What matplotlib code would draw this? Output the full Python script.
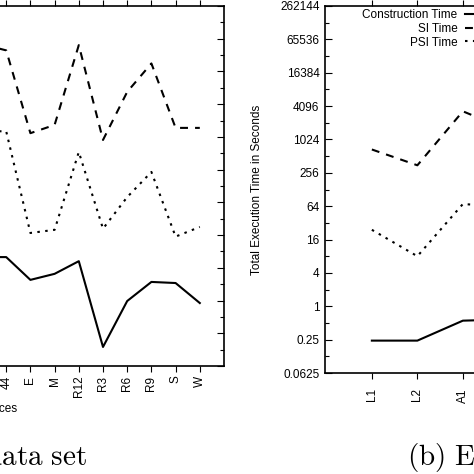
import numpy as np
import matplotlib
matplotlib.use("Agg")
import matplotlib.pyplot as plt
from matplotlib.ticker import FixedLocator, NullFormatter

plt.rcParams['font.family'] = ['Liberation Sans', 'DejaVu Sans']
plt.rcParams['mathtext.fontset'] = 'cm'

# (a) data sets
sources = ["33", "44", "E", "M", "R12", "R3", "R6", "R9", "S", "W"]
constr_a = [6.3, 6.3, 2.4, 3.1, 5.3, 0.14, 0.98, 2.2, 2.1, 0.9]
si_a = [52000, 40000, 1200, 1700, 50000, 900, 6900, 23000, 1500, 1500]
psi_a = [1300, 1300, 17.5, 20, 540, 21, 80, 232, 15, 22.6]

# (b)
sets_b = ["L1", "L2", "A1", "A2"]
constr_b = [0.24, 0.24, 0.55, 0.58]
si_b = [675, 350, 3300, 1500]
psi_b = [24, 8, 70, 62]

W = H = 474.0
fig = plt.figure(figsize=(4.74, 4.74), dpi=100)

def px(l, t, r, b):
    return [l / W, 1 - b / H, (r - l) / W, (b - t) / H]

major = [2.0 ** k for k in range(-4, 19, 2)]
minor = [2.0 ** k for k in range(-3, 19, 2)]
labels = ["0.0625", "0.25", "1", "4", "16", "64", "256", "1024",
          "4096", "16384", "65536", "262144"]

solid = dict(color='black', lw=1.5, ls='-')
dash = dict(color='black', lw=1.5, ls=(0, (3.8, 3.4)))
dot = dict(color='black', lw=1.5, ls=(0, (1.2, 2.6)))

def style(ax, xpad):
    ax.set_yscale('log', base=2)
    ax.set_ylim(2.0 ** -4, 2.0 ** 18)
    ax.yaxis.set_major_locator(FixedLocator(major))
    ax.yaxis.set_minor_locator(FixedLocator(minor))
    ax.yaxis.set_minor_formatter(NullFormatter())
    ax.tick_params(axis='y', which='major', direction='in', length=5, width=0.8,
                   left=True, right=True, labelsize=8.5, pad=4)
    ax.tick_params(axis='y', which='minor', direction='in', length=3, width=0.8,
                   left=True, right=True)
    ax.tick_params(axis='x', direction='out', length=4, width=0.8, top=True,
                   bottom=True, labelsize=8.5, labelrotation=90, pad=xpad)
    for s in ax.spines.values():
        s.set_linewidth(1.2)

# left panel (mostly outside the picture)
ax1 = fig.add_axes(px(-260, 6, 224, 366))
xa = np.arange(len(sources))
ax1.plot(xa, constr_a, **solid)
ax1.plot(xa, si_a, **dash)
ax1.plot(xa, psi_a, **dot)
style(ax1, 3)
ax1.set_xticks(xa)
ax1.set_xticklabels(sources)
ax1.set_xlim(len(sources) - 20, len(sources))
ax1.set_yticklabels(labels)
ax1.set_xlabel("Data Sources", fontsize=8.5, labelpad=4)

# right panel (extends past the right edge)
ax2 = fig.add_axes(px(325, 6, 809, 373))
xb = np.arange(len(sets_b))
ax2.plot(xb, constr_b, label="Construction Time", **solid)
ax2.plot(xb, si_b, label="SI Time", **dash)
ax2.plot(xb, psi_b, label="PSI Time", **dot)
style(ax2, 7)
ax2.set_xticks(xb)
ax2.set_xticklabels(sets_b)
ax2.set_xlim(-1.03, -1.03 + 484 / 45.5)
ax2.set_yticklabels(labels)
ax2.set_ylabel("Total Execution Time in Seconds", fontsize=8.5, labelpad=12)
ax2.legend(loc='upper right', bbox_to_anchor=(500 / W, 1 - 9 / H),
           bbox_transform=fig.transFigure, frameon=False, markerfirst=False,
           fontsize=8.5, handlelength=3, handletextpad=0.6, labelspacing=0.15,
           borderpad=0, borderaxespad=0)

fig.text(87 / W, 1 - 465 / H, r"$\mathrm{(a)\ Real\ data\ set}$", ha='right',
         va='baseline', fontsize=21)
fig.text(407 / W, 1 - 465 / H, r"$\mathrm{(b)\ Execution\ time}$", ha='left',
         va='baseline', fontsize=21)

fig.savefig("out.png", dpi=100)
